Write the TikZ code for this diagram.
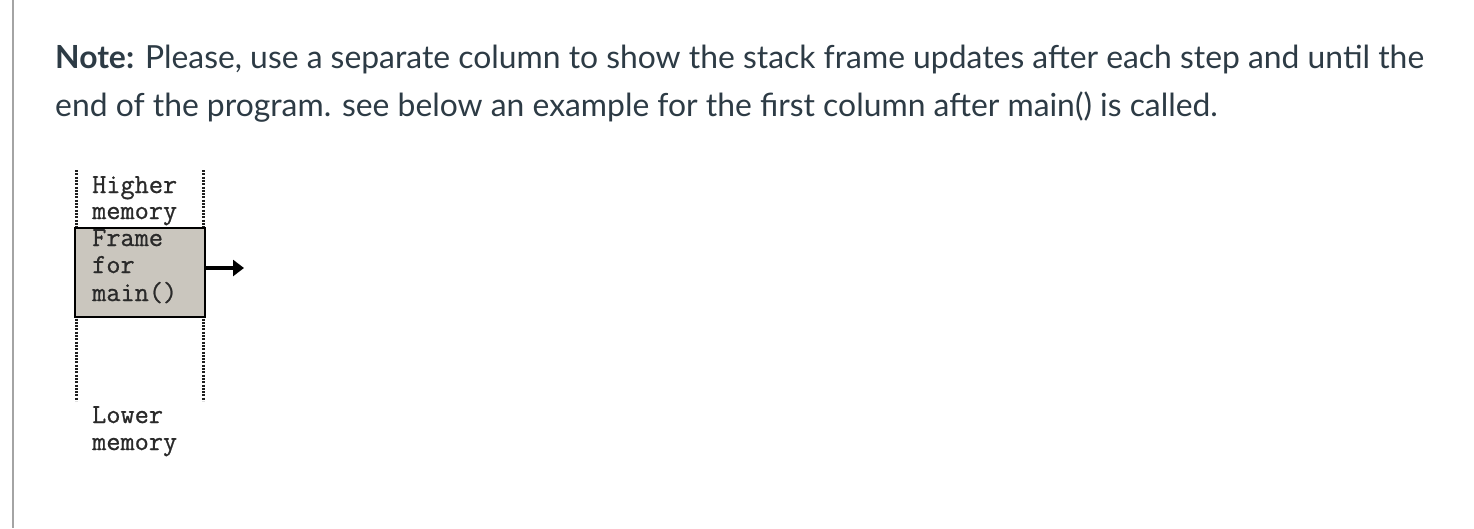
\documentclass[tikz,border=0pt]{standalone}
\usepackage{fontspec}
\setmainfont{Lato}
\newfontfamily\cmono{Latin Modern Mono}[FakeBold=0.8]
\usetikzlibrary{arrows.meta}
\definecolor{bodytxt}{HTML}{2D3B45}
\definecolor{frameg}{HTML}{CAC6BE}
\definecolor{borderg}{HTML}{A4A4A4}
\definecolor{monotxt}{HTML}{2A2A2A}
\tikzset{
  body/.style={anchor=base west, inner sep=0pt, text=bodytxt, font=\fontsize{31.85}{48}\selectfont},
  mono/.style={anchor=base west, inner sep=0pt, text=monotxt, font=\fontsize{27.5}{28}\cmono},
  rail/.style={draw=black!88, line width=3pt, dash pattern=on 2pt off 1.3pt},
  framebox/.style={draw=black, line width=1.8pt, fill=frameg, minimum width=130pt, minimum height=89pt, inner sep=0pt},
  pointer/.style={draw=black, line width=3.4pt, -{Triangle[length=11pt,width=16pt]}}
}
\begin{document}
\begin{tikzpicture}[x=1pt,y=1pt]
\useasboundingbox (0,0) rectangle (1474,-528);
\fill[white] (0,0) rectangle (1474,-528);
\draw[borderg, line width=2.2pt] (13,0) -- (13,-528);
\node[body] (l1) at (55,-68) {\textbf{Note:} Please, use a separate column to show the stack frame updates after each step and until the};
\node[body] (l2) at (55,-116) {end of the program. see below an example for the first column after main() is called.};
\coordinate (lt) at (76,-170);
\coordinate (lb) at (76,-401);
\coordinate (rt) at (203.5,-170);
\coordinate (rb) at (203.5,-401);
\draw[rail] (lt) -- (lb);
\draw[rail] (rt) -- (rb);
\node[framebox] (frame) at (140,-272.5) {};
\coordinate (tip) at (244,-268);
\draw[pointer] (frame.east |- tip) -- (tip);
\node[mono] (h1) at (92,-193) {Higher};
\node[mono] (h2) at (92,-219) {memory};
\node[mono] (f1) at (92,-246) {Frame};
\node[mono] (f2) at (92,-273) {for};
\node[mono] (f3) at (92,-301) {main()};
\node[mono] (w1) at (92,-423) {Lower};
\node[mono] (w2) at (92,-450) {memory};
\end{tikzpicture}
\end{document}
